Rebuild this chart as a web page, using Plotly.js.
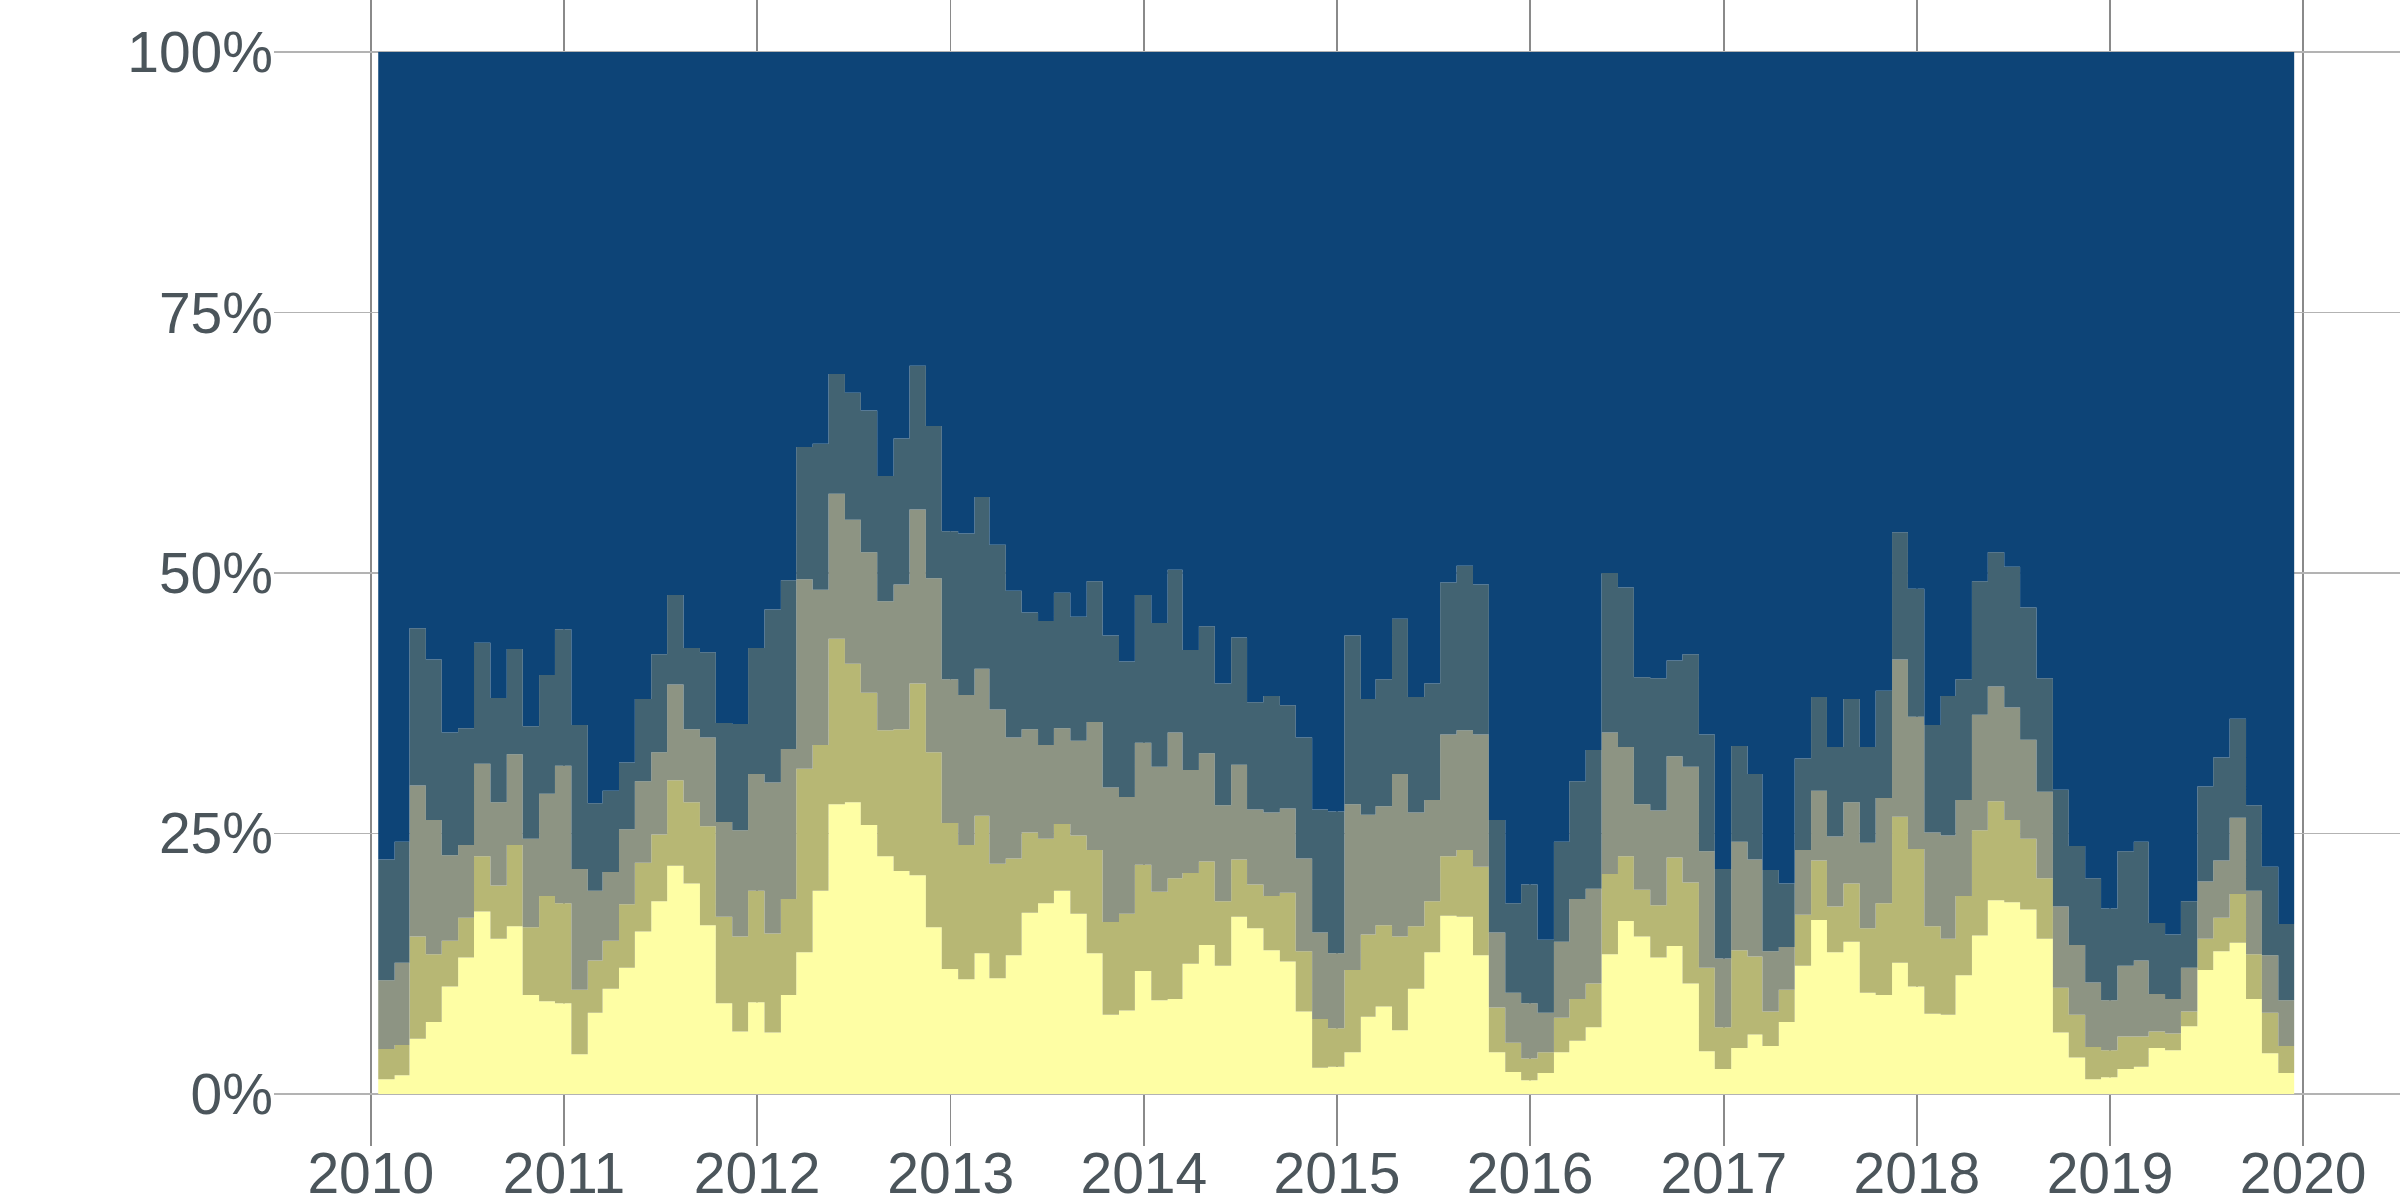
<!DOCTYPE html>
<html>
<head>
<meta charset="utf-8">
<script src="https://cdn.plot.ly/plotly-3.0.1.min.js"></script>
<style>html,body{margin:0;padding:0;background:#fff;}#chart{width:2400px;height:1200px;}</style>
</head>
<body>
<div id="chart"></div>
<script>
// Monthly observations (15th of each month), Jan 2010 - Dec 2019
const startYear = 2010;
const endYear = 2019;

// Cumulative shares (%): top edge of each stacked layer
const layer1Top = [1.4,1.8,5.3,6.9,10.3,13.1,17.5,14.9,16.1,9.5,8.9,8.7,
  3.8,7.8,10.1,12.1,15.6,18.5,21.9,20.2,16.2,8.7,6.0,8.8,
  5.9,9.5,13.6,19.5,27.8,28.0,25.8,22.8,21.4,21.0,16.0,12.0,
  11.0,13.5,11.1,13.3,17.4,18.3,19.5,17.3,13.5,7.6,8.0,11.8,
  9.0,9.1,12.5,14.3,12.3,17.0,15.9,13.8,12.7,7.9,2.5,2.6,
  4.0,7.4,8.4,6.1,10.1,13.6,17.1,17.0,13.3,4.0,2.1,1.3,
  2.0,4.0,5.1,6.4,13.4,16.6,15.1,13.1,14.2,10.6,4.1,2.4,
  4.4,5.7,4.6,6.9,12.3,16.7,13.6,14.6,9.7,9.5,12.6,10.3,
  7.7,7.6,11.4,15.2,18.6,18.4,17.7,14.9,5.9,3.5,1.4,1.6,
  2.4,2.6,4.4,4.2,6.5,11.9,13.7,14.5,9.1,3.9,2.0,2.0];
const layer2Top = [4.3,4.7,15.1,13.4,14.7,16.9,22.8,20.0,23.9,16.0,19.0,18.3,
  10.0,12.8,14.7,18.2,22.2,24.9,30.1,28.0,25.7,17.0,15.1,19.5,
  15.4,18.7,31.2,33.5,43.7,41.3,38.5,34.9,35.0,39.4,32.8,26.0,
  23.9,26.7,22.1,22.6,25.1,24.5,25.9,24.8,23.4,16.5,17.3,22.0,
  19.4,20.7,21.2,22.3,18.5,22.5,20.1,19.0,19.3,13.7,7.2,6.3,
  11.9,15.3,16.2,15.1,16.1,18.5,22.8,23.4,21.8,8.3,4.9,3.4,
  4.0,7.3,9.1,10.6,21.1,22.8,19.6,18.1,22.7,20.3,12.1,6.4,
  13.8,13.2,7.9,10.0,17.2,22.4,18.0,20.2,15.9,18.3,26.6,23.5,
  16.1,14.9,19.0,25.3,28.1,26.3,24.5,20.7,10.2,7.6,4.5,4.2,
  5.5,5.5,6.0,5.8,7.9,14.9,16.9,19.2,13.4,7.8,4.6,4.6];
const layer3Top = [10.9,12.6,29.6,26.3,22.9,23.9,31.7,28.0,32.6,24.5,28.8,31.5,
  21.6,19.5,21.3,25.4,30.0,32.8,39.3,35.0,34.2,26.1,25.3,30.7,
  29.9,33.1,49.4,48.4,57.6,55.1,52.0,47.3,48.9,56.1,49.5,39.8,
  38.3,40.8,36.9,34.2,35.0,33.5,35.1,33.9,35.7,29.4,28.5,33.7,
  31.4,34.7,31.1,32.7,27.7,31.6,27.3,27.0,27.4,22.6,15.5,13.5,
  27.8,26.8,27.6,30.7,27.0,28.2,34.5,34.9,34.5,15.5,9.7,8.7,
  7.8,14.6,18.7,19.7,34.7,33.3,27.8,27.2,32.4,31.4,23.3,13.0,
  24.2,22.5,13.7,14.1,23.4,29.1,24.7,28.0,24.1,28.4,41.7,36.2,
  25.1,24.8,28.2,36.4,39.1,37.1,34.0,29.0,18.0,14.3,10.7,9.0,
  12.3,12.8,9.6,9.1,12.1,20.4,22.4,26.5,19.5,13.3,9.0,9.0];
const layer4Top = [22.5,24.2,44.7,41.7,34.7,35.1,43.3,38.0,42.7,35.3,40.2,44.6,
  35.4,27.9,29.1,31.8,37.9,42.2,47.9,42.8,42.4,35.6,35.5,42.8,
  46.5,49.3,62.1,62.4,69.1,67.3,65.6,59.3,62.9,69.9,64.1,54.0,
  53.8,57.3,52.7,48.3,46.2,45.4,48.1,45.8,49.2,44.0,41.5,47.9,
  45.2,50.3,42.6,44.9,39.4,43.8,37.6,38.2,37.3,34.2,27.3,27.1,
  44.0,37.9,39.8,45.6,38.1,39.4,49.1,50.7,48.9,26.3,18.3,20.1,
  14.8,24.2,30.0,33.0,50.0,48.6,40.0,39.9,41.6,42.2,34.5,21.6,
  33.4,30.7,21.5,20.2,32.2,38.1,33.3,37.9,33.3,38.7,53.9,48.5,
  35.4,38.2,39.8,49.2,52.0,50.6,46.7,39.9,29.2,23.8,20.7,17.8,
  23.3,24.2,16.4,15.3,18.5,29.5,32.3,36.0,27.7,21.8,16.3,16.3];
const layer5Top = new Array(layer1Top.length).fill(100);

const yTickVals = [0, 25, 50, 75, 100];
const yTickText = ['0%', '25%', '50%', '75%', '100%'];
const xTickYears = [2010,2011,2012,2013,2014,2015,2016,2017,2018,2019,2020];

const colors = ['#FEFEA4', '#B7B774', '#8D9483', '#426372', '#0D4477'];

const months = [];
for (let y = startYear; y <= endYear; y++) {
  for (let m = 1; m <= 12; m++) {
    months.push(y + '-' + String(m).padStart(2, '0') + '-15');
  }
}

const layers = [layer1Top, layer2Top, layer3Top, layer4Top, layer5Top];
const traces = layers.map((vals, i) => ({
  type: 'scatter',
  mode: 'lines',
  x: months,
  y: vals,
  line: {shape: 'hv', width: 0, color: colors[i]},
  fill: i === 0 ? 'tozeroy' : 'tonexty',
  fillcolor: colors[i],
  hoverinfo: 'skip',
  showlegend: false
}));

const tickFont = {family: '"Liberation Sans", Arial, sans-serif', size: 57, color: '#4b555b'};

const layout = {
  width: 2400,
  height: 1200,
  margin: {l: 274, r: 0, t: 0, b: 54, pad: 0},
  paper_bgcolor: '#ffffff',
  plot_bgcolor: '#ffffff',
  font: tickFont,
  xaxis: {
    type: 'date',
    range: ['2009-07-02', '2020-07-02'],
    tickvals: xTickYears.map(y => y + '-01-01'),
    ticktext: xTickYears.map(String),
    showgrid: true,
    gridcolor: '#8a8a8a',
    gridwidth: 1.5,
    zeroline: false,
    showline: false,
    ticks: '',
    ticklabelstandoff: -11,
    tickfont: tickFont
  },
  yaxis: {
    range: [-5, 105],
    tickvals: yTickVals,
    ticktext: yTickText,
    showgrid: true,
    gridcolor: '#b3b3b3',
    gridwidth: 1.5,
    zeroline: false,
    showline: false,
    ticks: '',
    tickfont: tickFont
  }
};

Plotly.newPlot('chart', traces, layout, {displayModeBar: false, staticPlot: true});
</script>
</body>
</html>
